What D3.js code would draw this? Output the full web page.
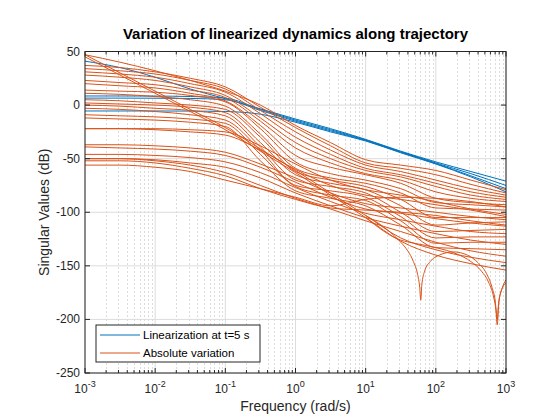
<!DOCTYPE html>
<html>
<head>
<meta charset="utf-8">
<script src="https://cdn.jsdelivr.net/npm/d3@7"></script>
<style>
  body { margin: 0; background: #fff; }
  text { font-family: "Liberation Sans", Arial, Helvetica, sans-serif; }
</style>
</head>
<body>
<svg id="chart" width="560" height="420"></svg>
<script>
// frequency grid (rad/s), half decades from 1e-3 to 1e3
const freqGrid = [0.001, 0.00316, 0.01, 0.0316, 0.1, 0.316, 1, 3.16, 10, 31.6, 100, 316, 1000];

// singular values (dB) of the linearization at t=5 s
const linB1 = [41, 35, 26, 15, 6, -3.5, -13, -22, -32, -43, -53, -62, -71];
const linB2 = [8.5, 8.5, 8.4, 8, 6.5, -4, -14, -23, -32.5, -43.5, -54, -64, -75];
const linB3 = [6.5, 6.5, 6.4, 6.2, 5, -5, -15, -24, -33, -44, -54.5, -66, -78];
const linB4 = [-5.5, -5.5, -5.5, -5.6, -6, -8.5, -16, -25, -33.5, -44.5, -55, -67, -81];
const linearization = [linB1, linB2, linB3, linB4];

// absolute variation (dB), upper group
const varO1 = [47, 40, 32, 23, 13, 0, -19, -35, -51, -56, -61, -70, -79];
const varC1 = [37, 35, 31, 25, 17, -2, -21, -38, -54, -59, -65, -74, -82];
const varC2 = [34, 32, 29, 23, 15, -5, -25, -42, -56, -62, -70, -78, -84];
const varC3 = [31, 29, 26, 20, 12, -8, -30, -46, -59, -65, -73, -81, -86];
const varC4 = [28, 26, 23, 17, 9, -12, -35, -50, -61, -67, -76, -84, -88];
const varC5 = [23, 21, 19, 14, 7, -15, -40, -54, -64, -70, -81, -87, -90];
const varC6 = [20, 18, 16, 11, 4, -19, -47, -58, -65, -73, -87, -91, -93];
// middle group
const varM1 = [14, 13, 12, 9, 3, -22, -53, -64, -70, -78, -91, -93, -95];
const varM2 = [11, 10, 8, 5, -1, -27, -59, -68, -73, -82, -96, -97, -98];
const varM3 = [5, 4, 2, 0, -4, -30, -62, -70, -76, -88, -105, -105, -105];
const varM4 = [2, 1, 0, -2, -7, -35, -65, -73, -79, -94, -112, -110, -109];
const varM5 = [0, -1, -3, -5, -10, -39, -70, -76, -82, -100, -118, -117, -116];
const varM6 = [-3, -4, -6, -9, -14, -42, -75, -80, -86, -104, -124, -123, -123];
const varM7 = [-9, -10, -11, -13, -17, -46, -76, -84, -89, -108, -129, -128, -128];
const varM8 = [-12, -13, -14, -16, -20, -52, -80, -87, -94, -112, -133, -134, -135];
// lower group
const varL1 = [-22, -22, -22, -23, -25, -38, -55, -70, -79, -84, -90, -97, -102];
const varL2 = [-22, -22, -23, -25, -28, -42, -60, -75, -84, -88, -93, -98, -104];
const varL3 = [-37, -37, -38, -40, -44, -55, -68, -82, -92, -96, -100, -104, -107];
const varL4 = [-39, -40, -41, -43, -47, -58, -72, -86, -97, -101, -106, -110, -113];
const varL5 = [-46, -46, -47, -49, -53, -63, -77, -90, -101, -107, -113, -118, -120];
const varL6 = [-50, -50, -51, -54, -58, -68, -82, -94, -105, -113, -120, -126, -130];
const varL7 = [-50, -50, -52, -56, -63, -75, -87, -97, -108, -118, -128, -136, -141];
const varL8 = [-52, -52, -54, -59, -66, -78, -88, -96, -98, -100, -103, -108, -112];
const varD1 = [-56, -56, -58, -62, -70, -78, -86, -94, -88, -86, -87, -90, -95];
// steep double band
const varA1 = [47, 30, 13, -4, -21, -41, -61, -82, -103, -124, -135, -142, -147];
const varA2 = [45, 28, 11, -6, -23, -43, -63, -84, -105, -127, -140, -148, -154];
const variation = [varO1, varC1, varC2, varC3, varC4, varC5, varC6,
  varM1, varM2, varM3, varM4, varM5, varM6, varM7, varM8,
  varL1, varL2, varL3, varL4, varL5, varL6, varL7, varL8, varD1, varA1, varA2];

// two branches with notches near 60 and 750 rad/s
const notch1Freq = [10, 20, 31.6, 39.8, 47.9, 55, 58.9, 61, 63.1, 69.2, 83.2, 112, 178, 282, 398, 525, 631, 708, 750, 794, 891, 1000];
const notch1Db = [-103, -116, -128, -136, -146, -158, -170, -182, -168, -155, -146, -140, -137, -140, -147, -157, -170, -185, -205, -183, -170, -163];
const notch2Freq = [10, 31.6, 50, 100, 200, 316, 447, 562, 661, 724, 750, 776, 851, 1000];
const notch2Db = [-105, -126, -129, -133, -139, -146, -155, -165, -178, -192, -200, -188, -174, -166];

const xTicks = [1e-3, 1e-2, 1e-1, 1e0, 1e1, 1e2, 1e3];
const xTickExp = ["-3", "-2", "-1", "0", "1", "2", "3"];
const yTicks = [50, 0, -50, -100, -150, -200, -250];

const blue = "#0072bd";
const orange = "#d95319";
const axisColor = "#262626";

let margin = { top: 51.5, right: 54, bottom: 47, left: 85 };
let width = 560, height = 420;
let x0 = margin.left, x1 = width - margin.right;
let y0 = margin.top, y1 = height - margin.bottom;

let svg = d3.select("#chart");

let x = d3.scaleLog().domain([1e-3, 1e3]).range([x0, x1]);
let y = d3.scaleLinear().domain([-250, 50]).range([y1, y0]);

// minor frequency values 2..9 per decade
let minorTicks = [];
for (let d = -3; d < 3; d++) {
  for (let m = 2; m < 10; m++) minorTicks.push(m * Math.pow(10, d));
}

let grid = svg.append("g");
grid.selectAll(".minor")
  .data(minorTicks)
  .enter().append("line")
  .attr("x1", d => Math.round(x(d)) + 0.5).attr("x2", d => Math.round(x(d)) + 0.5)
  .attr("y1", y0).attr("y2", y1)
  .attr("stroke", "#b8b8b8")
  .attr("stroke-width", 1)
  .attr("stroke-dasharray", "1,3");
grid.selectAll(".majx")
  .data(xTicks)
  .enter().append("line")
  .attr("x1", d => x(d)).attr("x2", d => x(d))
  .attr("y1", y0).attr("y2", y1)
  .attr("stroke", "#dcdcdc");
grid.selectAll(".majy")
  .data(yTicks)
  .enter().append("line")
  .attr("x1", x0).attr("x2", x1)
  .attr("y1", d => y(d)).attr("y2", d => y(d))
  .attr("stroke", "#dcdcdc");

let plot = svg.append("g");
let clip = svg.append("clipPath").attr("id", "plotclip");
clip.append("rect").attr("x", x0).attr("y", y0).attr("width", x1 - x0).attr("height", y1 - y0);
plot.attr("clip-path", "url(#plotclip)");

let line = d3.line()
  .x(d => x(d[0]))
  .y(d => y(d[1]))
  .curve(d3.curveMonotoneX);

function drawSeries(vals, freqs, color) {
  plot.append("path")
    .datum(freqs.map((f, i) => [f, vals[i]]))
    .attr("d", line)
    .attr("fill", "none")
    .attr("stroke", color)
    .attr("stroke-width", 1);
}

linearization.forEach(v => drawSeries(v, freqGrid, blue));
variation.forEach(v => drawSeries(v, freqGrid, orange));
drawSeries(notch1Db, notch1Freq, orange);
drawSeries(notch2Db, notch2Freq, orange);

// axes box and ticks
let axes = svg.append("g");
axes.append("rect")
  .attr("x", x0).attr("y", y0)
  .attr("width", x1 - x0).attr("height", y1 - y0)
  .attr("fill", "none")
  .attr("stroke", axisColor)
  .attr("stroke-width", 1);

[y0, y1].forEach((yy, k) => {
  let dir = k == 0 ? 1 : -1;
  axes.selectAll(null).data(xTicks).enter().append("line")
    .attr("x1", d => x(d)).attr("x2", d => x(d))
    .attr("y1", yy).attr("y2", yy + dir * 5)
    .attr("stroke", axisColor);
  axes.selectAll(null).data(minorTicks).enter().append("line")
    .attr("x1", d => x(d)).attr("x2", d => x(d))
    .attr("y1", yy).attr("y2", yy + dir * 3)
    .attr("stroke", axisColor);
});
[x0, x1].forEach((xx, k) => {
  let dir = k == 0 ? 1 : -1;
  axes.selectAll(null).data(yTicks).enter().append("line")
    .attr("x1", xx).attr("x2", xx + dir * 5)
    .attr("y1", d => y(d)).attr("y2", d => y(d))
    .attr("stroke", axisColor);
});

// tick labels
let xlab = axes.selectAll(".xlab")
  .data(xTicks)
  .enter().append("text")
  .attr("x", d => x(d))
  .attr("y", y1 + 20)
  .attr("text-anchor", "middle")
  .attr("fill", axisColor)
  .style("font-size", "12px");
xlab.append("tspan").text("10");
xlab.append("tspan")
  .attr("dy", -6)
  .style("font-size", "9px")
  .text((d, i) => xTickExp[i]);

axes.selectAll(".ylab")
  .data(yTicks)
  .enter().append("text")
  .attr("x", x0 - 5)
  .attr("y", d => y(d) + 4)
  .attr("text-anchor", "end")
  .attr("fill", axisColor)
  .style("font-size", "12px")
  .text(d => d);

svg.append("text")
  .attr("x", (x0 + x1) / 2)
  .attr("y", 411)
  .attr("text-anchor", "middle")
  .attr("fill", axisColor)
  .style("font-size", "14px")
  .text("Frequency (rad/s)");

svg.append("text")
  .attr("transform", `translate(49, ${(y0 + y1) / 2}) rotate(-90)`)
  .attr("text-anchor", "middle")
  .attr("fill", axisColor)
  .style("font-size", "14px")
  .text("Singular Values (dB)");

svg.append("text")
  .attr("x", (x0 + x1) / 2)
  .attr("y", 39)
  .attr("text-anchor", "middle")
  .attr("fill", "#000")
  .style("font-size", "15px")
  .style("font-weight", "bold")
  .text("Variation of linearized dynamics along trajectory");

// legend
let legend = svg.append("g").attr("transform", "translate(96,325)");
legend.append("rect")
  .attr("width", 164).attr("height", 37)
  .attr("fill", "#fff")
  .attr("stroke", axisColor);
let legendItems = [["Linearization at t=5 s", blue], ["Absolute variation", orange]];
legendItems.forEach((item, i) => {
  legend.append("line")
    .attr("x1", 4).attr("x2", 44)
    .attr("y1", 10 + i * 18).attr("y2", 10 + i * 18)
    .attr("stroke", item[1]);
  legend.append("text")
    .attr("x", 47).attr("y", 14 + i * 18)
    .attr("fill", "#000")
    .style("font-size", "11.5px")
    .text(item[0]);
});
</script>
</body>
</html>
